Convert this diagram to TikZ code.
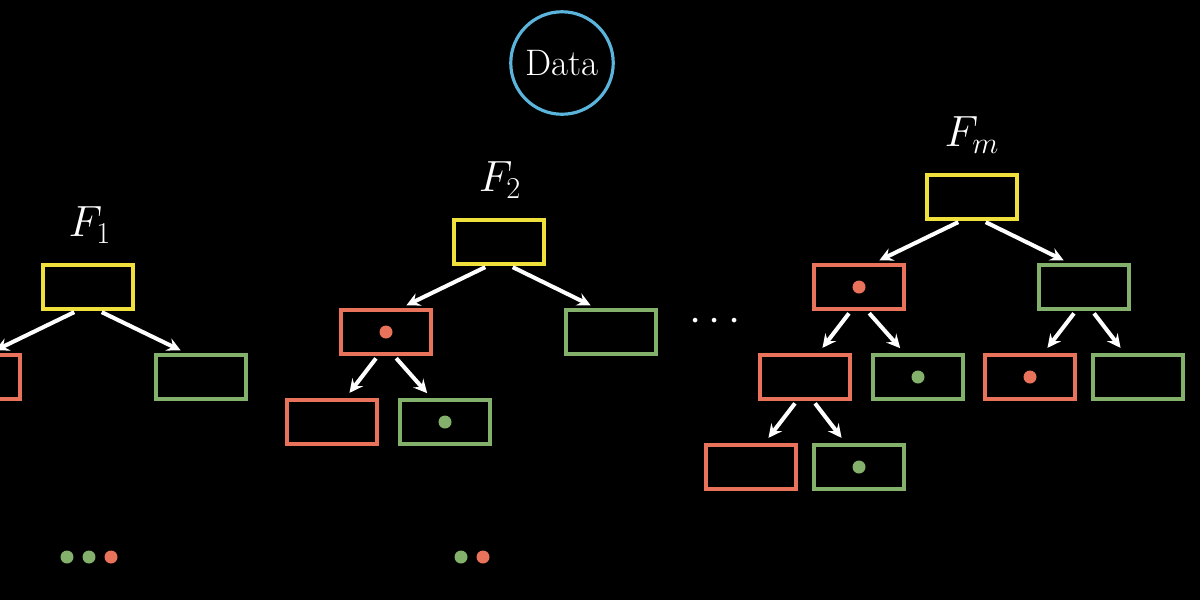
\documentclass[tikz,border=0pt]{standalone}
\usetikzlibrary{arrows,calc}
\usepackage[dvipsnames]{xcolor}
\definecolor{leafred}{HTML}{E8735A}
\definecolor{leafgreen}{HTML}{83B06A}
\definecolor{rootyellow}{HTML}{EFE03C}
\definecolor{datablue}{HTML}{5AB4DC}

\tikzset{
    box/.style = {draw, line width=1.8pt, minimum width=1.8cm, minimum height=0.88cm, inner sep=0pt},
    root/.style = {box, draw=rootyellow},
    rnode/.style = {box, draw=leafred},
    gnode/.style = {box, draw=leafgreen},
    dot/.style = {circle, inner sep=0pt, minimum size=0.26cm},
    rdot/.style = {dot, fill=leafred},
    gdot/.style = {dot, fill=leafgreen},
    arr/.style = {draw=white, line width=2.3pt, -stealth, shorten >=4pt, shorten <=2pt},
    lbl/.style = {text=white, font=\fontsize{25}{30}\selectfont}
}

\begin{document}
\begin{tikzpicture}[x=0.02cm, y=-0.02cm]
    \fill[black] (0,0) rectangle (1200,600);
    \useasboundingbox (0,0) rectangle (1200,600);

    % data
    \node[circle, draw=datablue, line width=1.8pt, minimum size=2.05cm, text=white,
          font=\fontsize{21}{25}\selectfont] (data) at (562,63) {Data};

    % tree 1
    \node[lbl] (l1) at (90,225) {$F_1$};
    \node[root] (t1) at (88,287) {};
    \node[rnode] (t1a) at (-25,377) {};
    \node[gnode] (t1b) at (201,377) {};
    \draw[arr] ([xshift=-6pt]t1.south) -- ([xshift=8pt]t1a.north);
    \draw[arr] ([xshift=6pt]t1.south) -- ([xshift=-8pt]t1b.north);
    \node[gdot] (d1) at (67,557) {};
    \node[gdot] (d2) at (89,557) {};
    \node[rdot] (d3) at (111,557) {};

    % tree 2
    \node[lbl] (l2) at (500,180) {$F_2$};
    \node[root] (t2) at (499,242) {};
    \node[rnode] (t2a) at (386,332) {};
    \node[gnode] (t2b) at (611,332) {};
    \node[rnode] (t2aa) at (332,422) {};
    \node[gnode] (t2ab) at (445,422) {};
    \node[rdot] at (t2a) {};
    \node[gdot] at (t2ab) {};
    \draw[arr] ([xshift=-6pt]t2.south) -- ([xshift=8pt]t2a.north);
    \draw[arr] ([xshift=6pt]t2.south) -- ([xshift=-8pt]t2b.north);
    \draw[arr] ([xshift=-4.5pt]t2a.south) -- ([xshift=7.5pt]t2aa.north);
    \draw[arr] ([xshift=4.5pt]t2a.south) -- ([xshift=-7.5pt]t2ab.north);
    \node[gdot] (d4) at (461,557) {};
    \node[rdot] (d5) at (483,557) {};

    % ellipsis
    \node[text=white, font=\fontsize{30}{34}\selectfont] (dots) at (715,322) {$\cdots$};

    % tree m
    \node[lbl] (lm) at (972,135) {$F_m$};
    \node[root] (tm) at (972,197) {};
    \node[rnode] (tma) at (859,287) {};
    \node[gnode] (tmb) at (1084,287) {};
    \node[rnode] (tmaa) at (805,377) {};
    \node[gnode] (tmab) at (918,377) {};
    \node[rnode] (tmba) at (1030,377) {};
    \node[gnode] (tmbb) at (1138,377) {};
    \node[rnode] (tmaaa) at (751,467) {};
    \node[gnode] (tmaab) at (859,467) {};
    \node[rdot] at (tma) {};
    \node[gdot] at (tmab) {};
    \node[rdot] at (tmba) {};
    \node[gdot] at (tmaab) {};
    \draw[arr] ([xshift=-6pt]tm.south) -- ([xshift=8pt]tma.north);
    \draw[arr] ([xshift=6pt]tm.south) -- ([xshift=-8pt]tmb.north);
    \draw[arr] ([xshift=-4.5pt]tma.south) -- ([xshift=7.5pt]tmaa.north);
    \draw[arr] ([xshift=4.5pt]tma.south) -- ([xshift=-7.5pt]tmab.north);
    \draw[arr] ([xshift=-4.5pt]tmb.south) -- ([xshift=7.5pt]tmba.north);
    \draw[arr] ([xshift=4.5pt]tmb.south) -- ([xshift=-7.5pt]tmbb.north);
    \draw[arr] ([xshift=-4.5pt]tmaa.south) -- ([xshift=7.5pt]tmaaa.north);
    \draw[arr] ([xshift=4.5pt]tmaa.south) -- ([xshift=-7.5pt]tmaab.north);
\end{tikzpicture}
\end{document}
